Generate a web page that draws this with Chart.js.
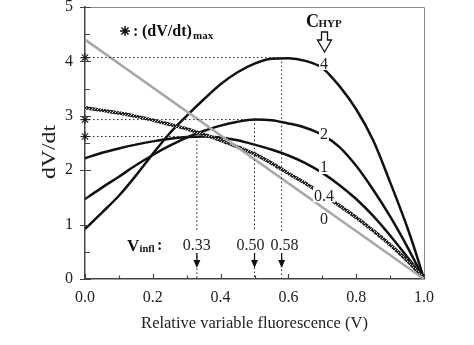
<!DOCTYPE html>
<html>
<head>
<meta charset="utf-8">
<script src="https://cdn.jsdelivr.net/npm/chart.js@4"></script>
<style>
  body { margin: 0; background: #fff; }
  #wrap { width: 474px; height: 345px; }
</style>
</head>
<body>
<div id="wrap"><canvas id="myChart" width="474" height="345"></canvas></div>
<script>
// relative variable fluorescence (V), shared sample grid
const V = [0, 0.05, 0.1, 0.15, 0.2, 0.25, 0.3, 0.35, 0.4, 0.45, 0.5, 0.55, 0.6, 0.65, 0.7, 0.75, 0.8, 0.85, 0.9, 0.95, 0.975, 1.0];

// dV/dt for each C_HYP
const cHyp4  = [0.92, 1.22, 1.53, 1.90, 2.30, 2.68, 3.00, 3.30, 3.58, 3.80, 3.96, 4.05, 4.06, 4.01, 3.88, 3.55, 3.12, 2.55, 1.78, 0.96, 0.50, 0];
const cHyp2  = [1.47, 1.68, 1.88, 2.09, 2.28, 2.45, 2.60, 2.72, 2.82, 2.89, 2.93, 2.92, 2.86, 2.78, 2.65, 2.43, 2.08, 1.64, 1.15, 0.60, 0.30, 0];
const cHyp1  = [2.22, 2.32, 2.40, 2.47, 2.53, 2.58, 2.61, 2.62, 2.60, 2.55, 2.47, 2.38, 2.27, 2.13, 1.95, 1.73, 1.47, 1.16, 0.80, 0.41, 0.21, 0];
const cHyp04 = [3.15, 3.10, 3.05, 2.99, 2.92, 2.84, 2.76, 2.66, 2.55, 2.43, 2.30, 2.13, 1.94, 1.76, 1.56, 1.35, 1.13, 0.89, 0.63, 0.34, 0.18, 0];
// C_HYP = 0 is a straight line
const V0 = [0, 1];
const cHyp0 = [4.4, 0];

// inflection points / maxima
const vInfl = [0.33, 0.50, 0.58];
const dMax = [2.62, 2.93, 4.07];

const curveNames = ['4', '2', '1', '0.4', '0'];
const xTicks = [0, 0.2, 0.4, 0.6, 0.8, 1.0];
const yTicks = [0, 1, 2, 3, 4, 5];

const SERIF = "'Liberation Serif', 'Times New Roman', serif";

const pts = (xs, ys) => xs.map((x, i) => ({ x: x, y: ys[i] }));

// speckled texture for the C_HYP = 0.4 curve
const pc = document.createElement('canvas');
pc.width = 3; pc.height = 3;
const pg = pc.getContext('2d');
pg.fillStyle = '#262626'; pg.fillRect(0, 0, 3, 3);
pg.fillStyle = '#c8c8c8'; pg.fillRect(1, 1, 1, 1); pg.fillRect(2, 0, 1, 1);

const ctx = document.getElementById('myChart');
const texture = ctx.getContext('2d').createPattern(pc, 'repeat');

const curve = (data, color, width) => ({
  data: data, borderColor: color, borderWidth: width,
  pointRadius: 0, cubicInterpolationMode: 'monotone', fill: false
});
const dotted = data => ({
  data: data, borderColor: '#222', borderWidth: 1, borderDash: [1.5, 2.5],
  pointRadius: 0, tension: 0, fill: false
});

const datasets = [
  dotted(pts([0, vInfl[0]], [dMax[0], dMax[0]])),
  dotted(pts([0, vInfl[1]], [dMax[1], dMax[1]])),
  dotted(pts([0, vInfl[2]], [dMax[2], dMax[2]])),
  dotted(pts([vInfl[0], vInfl[0]], [dMax[0], 0])),
  dotted(pts([vInfl[1], vInfl[1]], [dMax[1], 0])),
  dotted(pts([vInfl[2], vInfl[2]], [dMax[2], 0])),
  curve(pts(V0, cHyp0), '#a8a8a8', 2.5),
  curve(pts(V, cHyp04), texture, 3.5),
  curve(pts(V, cHyp1), '#111', 2.5),
  curve(pts(V, cHyp2), '#111', 2.5),
  curve(pts(V, cHyp4), '#111', 2.5),
  {
    data: pts(vInfl.map(() => 0), dMax), showLine: false, clip: false,
    pointStyle: 'star', pointRadius: 4.5, borderColor: '#222', borderWidth: 1.1
  }
];

function txt(c, s, x, y, font, align) {
  c.font = font;
  c.textAlign = align || 'center';
  c.textBaseline = 'alphabetic';
  c.fillText(s, x, y);
}

const deco = {
  id: 'deco',
  afterDatasetsDraw(chart) {
    const c = chart.ctx, xs = chart.scales.x, ys = chart.scales.y;
    const a = chart.chartArea;
    c.save();

    // frame top + right
    c.strokeStyle = '#8a8a8a'; c.lineWidth = 1;
    c.beginPath();
    c.moveTo(a.left, a.top + 0.5); c.lineTo(a.right + 0.5, a.top + 0.5); c.lineTo(a.right + 0.5, a.bottom);
    c.stroke();

    // ticks (inside)
    c.strokeStyle = '#444'; c.lineWidth = 1.2;
    c.beginPath();
    for (let i = 0; i <= 10; i++) {
      const p = Math.round(ys.getPixelForValue(i / 2)) + 0.5;
      const major = i % 2 === 0;
      c.moveTo(a.left - (major ? 5 : 0), p); c.lineTo(a.left + (major ? 6 : 5), p);
    }
    for (let i = 0; i <= 10; i++) {
      const p = Math.round(xs.getPixelForValue(i / 10)) + 0.5;
      const major = i % 2 === 0;
      c.moveTo(p, a.bottom); c.lineTo(p, a.bottom - (major ? 5 : 3.5));
    }
    c.stroke();

    c.fillStyle = '#222';
    // curve labels with white backing
    const lx = xs.getPixelForValue(0.705);
    const labY = [3.97, 2.68, 2.06, 1.54, 1.12];
    curveNames.forEach((n, i) => {
      const py = ys.getPixelForValue(labY[i]);
      c.font = '16px ' + SERIF;
      const w = c.measureText(n).width;
      if (i < 4) {
        c.fillStyle = '#fff';
        c.fillRect(lx - w / 2 - 1, py - 8, w + 2, 15);
      }
      c.fillStyle = '#222';
      txt(c, n, lx, py + 5.5, '16px ' + SERIF);
    });

    // C_HYP header with hollow arrow
    c.fillStyle = '#111';
    txt(c, 'C', 306, 27, 'bold 18px ' + SERIF, 'left');
    txt(c, 'HYP', 318.5, 27, 'bold 11px ' + SERIF, 'left');
    const ax = 324.5;
    c.beginPath();
    c.moveTo(ax - 3, 32); c.lineTo(ax + 3, 32); c.lineTo(ax + 3, 40); c.lineTo(ax + 7, 40);
    c.lineTo(ax, 52); c.lineTo(ax - 7, 40); c.lineTo(ax - 3, 40); c.closePath();
    c.fillStyle = '#fff'; c.fill();
    c.strokeStyle = '#111'; c.lineWidth = 1.3; c.stroke();

    // star legend
    c.strokeStyle = '#111'; c.lineWidth = 1.5;
    Chart.helpers.drawPoint(c, { pointStyle: 'star', radius: 5, rotation: 0, borderWidth: 1.5 }, 125, 31);
    c.fillStyle = '#111';
    txt(c, ':', 133, 36, 'bold 16px ' + SERIF, 'left');
    txt(c, '(dV/dt)', 142, 36, 'bold 16px ' + SERIF, 'left');
    txt(c, 'max', 193, 39, 'bold 11px ' + SERIF, 'left');

    // V_infl row
    txt(c, 'V', 127, 251, 'bold 17px ' + SERIF, 'left');
    txt(c, 'infl', 139.5, 252, 'bold 10.5px ' + SERIF, 'left');
    txt(c, ':', 157, 250, 'bold 16px ' + SERIF, 'left');
    const labX = [0, -4, 3];
    vInfl.forEach((v, i) => {
      const px = xs.getPixelForValue(v);
      c.fillStyle = '#fff';
      c.fillRect(px - 2, 231, 4, 22);
      c.fillStyle = '#222';
      txt(c, v.toFixed(2), px + labX[i], 250, '16px ' + SERIF);
      // solid down arrow
      c.strokeStyle = '#111'; c.lineWidth = 1.3;
      c.beginPath(); c.moveTo(px, 253); c.lineTo(px, 261); c.stroke();
      c.beginPath(); c.moveTo(px - 3.5, 260); c.lineTo(px + 3.5, 260); c.lineTo(px, 268); c.closePath();
      c.fillStyle = '#111'; c.fill();
    });

    // axis titles
    c.fillStyle = '#222';
    txt(c, 'Relative variable fluorescence (V)', (a.left + a.right) / 2, 328, '16.5px ' + SERIF);
    c.translate(55, 152);
    c.rotate(-Math.PI / 2);
    c.scale(1.25, 1);
    txt(c, 'dV/dt', 0, 0, '19px ' + SERIF);
    c.restore();
  }
};

new Chart(ctx, {
  type: 'line',
  data: { datasets: datasets },
  options: {
    responsive: false,
    animation: false,
    events: [],
    layout: { padding: { top: 7, right: 50, left: 0, bottom: 0 } },
    plugins: { legend: { display: false }, tooltip: { enabled: false } },
    scales: {
      x: {
        type: 'linear', min: 0, max: 1,
        afterFit: s => { s.height = 66; s.paddingLeft = 0; s.paddingRight = 0; },
        afterBuildTicks: s => { s.ticks = xTicks.map(v => ({ value: v })); },
        ticks: { padding: 9, color: '#222', font: { family: SERIF, size: 16 }, callback: v => v.toFixed(1) },
        grid: { drawOnChartArea: false, drawTicks: false },
        border: { color: '#444', width: 1.5 }
      },
      y: {
        type: 'linear', min: 0, max: 5,
        afterFit: s => { s.width = 85; s.paddingTop = 0; s.paddingBottom = 0; },
        afterBuildTicks: s => { s.ticks = yTicks.map(v => ({ value: v })); },
        ticks: { padding: 12, color: '#222', font: { family: SERIF, size: 16 } },
        grid: { drawOnChartArea: false, drawTicks: false },
        border: { color: '#444', width: 1.5 }
      }
    }
  },
  plugins: [deco]
});
</script>
</body>
</html>
